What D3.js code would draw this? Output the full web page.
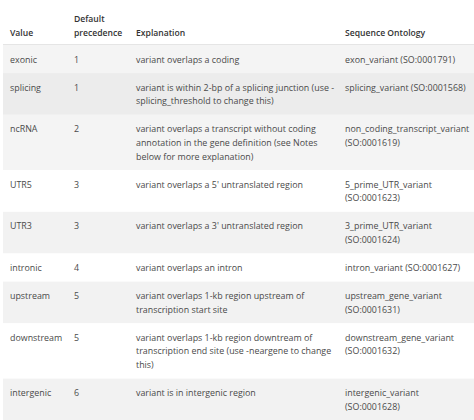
<!DOCTYPE html>
<html><head><meta charset="utf-8">
<script src="https://cdn.jsdelivr.net/npm/d3@7"></script>
<style>body{margin:0;background:#fff}</style></head>
<body><svg id="c" width="474" height="420"></svg>
<script>
const values = ["exonic","splicing","ncRNA","UTR5","UTR3","intronic","upstream","downstream","intergenic"];
const precedence = ["1","1","2","3","3","4","5","5","6"];
const explanation = [
 ["variant overlaps a coding"],
 ["variant is within 2-bp of a splicing junction (use -","splicing_threshold to change this)"],
 ["variant overlaps a transcript without coding","annotation in the gene definition (see Notes","below for more explanation)"],
 ["variant overlaps a 5' untranslated region"],
 ["variant overlaps a 3' untranslated region"],
 ["variant overlaps an intron"],
 ["variant overlaps 1-kb region upstream of","transcription start site"],
 ["variant overlaps 1-kb region downtream of","transcription end site (use -neargene to change","this)"],
 ["variant is in intergenic region"]
];
const ontology = [
 ["exon_variant (SO:0001791)"],
 ["splicing_variant (SO:0001568)"],
 ["non_coding_transcript_variant","(SO:0001619)"],
 ["5_prime_UTR_variant","(SO:0001623)"],
 ["3_prime_UTR_variant","(SO:0001624)"],
 ["intron_variant (SO:0001627)"],
 ["upstream_gene_variant","(SO:0001631)"],
 ["downstream_gene_variant","(SO:0001632)"],
 ["intergenic_variant","(SO:0001628)"]
];
const headers = [["Value"],["Default","precedence"],["Explanation"],["Sequence Ontology"]];

const rowFill = ["#f4f4f4","#ececec","#f4f4f4","#ffffff","#f2f2f2","#ffffff","#f2f2f2","#ffffff","#f2f2f2"];
const colX = [10,74,136,345];
const lineH = 13.6, pad = 14.5, headerBottom = 45;
const svg = d3.select("#c");
const font = "'Open Sans', 'Noto Sans', sans-serif";

svg.append("line").attr("x1",3).attr("x2",474).attr("y1",headerBottom).attr("y2",headerBottom).attr("stroke","#dcdcdc").attr("stroke-width",1.5);
headers.forEach((h,i)=>{
  const t = svg.append("text").attr("font-family",font).attr("font-size",8.6).attr("font-weight",600).attr("fill","#333");
  h.forEach((line,j)=>t.append("tspan").attr("x",colX[i]).attr("y",headerBottom-9-(h.length-1-j)*lineH).text(line));
});

const rows = values.map((v,i)=>({v,p:precedence[i],e:explanation[i],o:ontology[i],n:Math.max(explanation[i].length,ontology[i].length)}));
let y = headerBottom;
rows.forEach(r=>{r.y=y; r.h=pad+r.n*lineH; y+=r.h;});

const g = svg.selectAll("g.row").data(rows).enter().append("g");
g.append("rect").attr("x",3).attr("width",471).attr("y",d=>d.y).attr("height",d=>d.h).attr("fill",(d,i)=>rowFill[i]);
g.each(function(d){
  const sel=d3.select(this);
  [[d.v],[d.p],d.e,d.o].forEach((lines,ci)=>{
    const t=sel.append("text").attr("font-family",font).attr("font-size",8.9).attr("fill","#4a4a4a");
    lines.forEach((line,j)=>t.append("tspan").attr("x",colX[ci]).attr("y",d.y+17.5+j*lineH).text(line));
  });
});
</script></body></html>
